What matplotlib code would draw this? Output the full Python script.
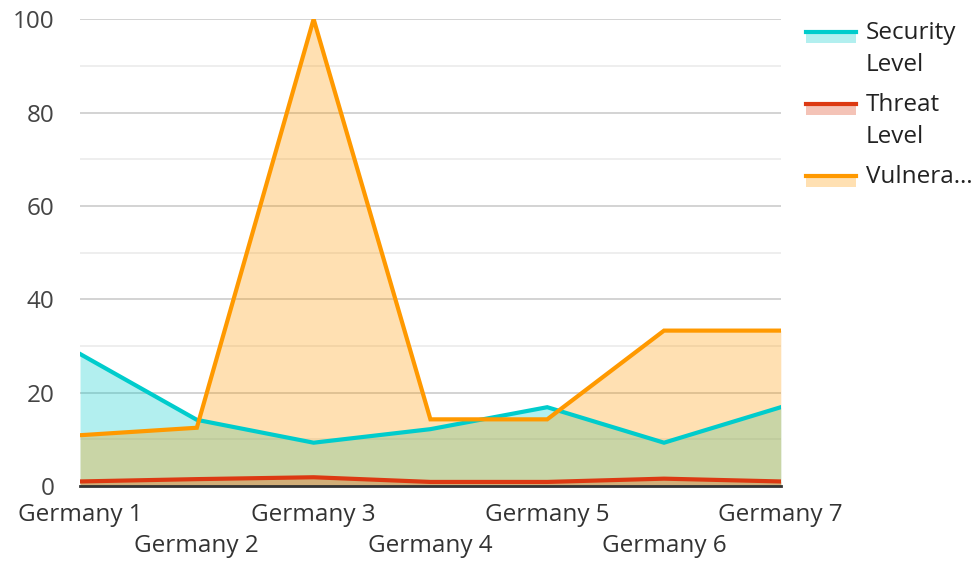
import matplotlib.pyplot as plt
from matplotlib.patches import Rectangle
from matplotlib.lines import Line2D
import numpy as np

plt.rcParams['font.family'] = ['Open Sans', 'DejaVu Sans']
plt.rcParams['font.size'] = 17.5

categories = ["Germany 1", "Germany 2", "Germany 3", "Germany 4",
              "Germany 5", "Germany 6", "Germany 7"]
security = [28.3, 14.2, 9.3, 12.2, 16.9, 9.3, 16.9]
threat = [1.0, 1.5, 1.9, 0.9, 0.9, 1.6, 1.0]
vulnerability = [10.9, 12.5, 100, 14.3, 14.3, 33.3, 33.3]

series = [
    ("Security\nLevel", security, "#00cccc"),
    ("Threat\nLevel", threat, "#dc3912"),
    ("Vulnera\u2026", vulnerability, "#ff9900"),
]

fig = plt.figure(figsize=(9.76, 5.62), dpi=100)
ax = fig.add_axes([0.082, 0.135, 0.718, 0.831])

x = np.arange(len(categories))
for name, vals, col in series:
    ax.fill_between(x, 0, vals, color=col, alpha=0.3, linewidth=0, zorder=2)
for name, vals, col in series:
    ax.plot(x, vals, color=col, linewidth=3, zorder=3, solid_joinstyle='miter')

ax.set_xlim(0, len(categories) - 1)
ax.set_ylim(0, 100)
ax.set_yticks(np.arange(0, 101, 20))
ax.set_yticks(np.arange(10, 100, 20), minor=True)
ax.grid(axis='y', which='major', color='#cccccc', linewidth=1.2, zorder=1)
ax.grid(axis='y', which='minor', color='#ebebeb', linewidth=1.2, zorder=1)
ax.set_axisbelow(True)

ax.set_xticks(x)
ax.set_xticklabels([c if i % 2 == 0 else "\n" + c for i, c in enumerate(categories)],
                   linespacing=1.42, fontsize=17.5)
ax.tick_params(axis='both', which='both', length=0, colors='#333333')
ax.tick_params(axis='x', pad=12)
ax.tick_params(axis='y', pad=18.5, labelsize=17.5, labelcolor='#444444')

for s in ['left', 'right', 'top']:
    ax.spines[s].set_visible(False)
ax.spines['bottom'].set_color('#333333')
ax.spines['bottom'].set_linewidth(2)
ax.spines['bottom'].set_zorder(4)

# legend drawn by hand: line on top of a pale swatch
W, H = 976, 562
for i, (name, vals, col) in enumerate(series):
    top = 31 + i * 72
    fig.add_artist(Rectangle((806 / W, 1 - (top + 12) / H), 50 / W, 12 / H,
                             transform=fig.transFigure, color=col, alpha=0.3, lw=0))
    fig.add_artist(Line2D([806 / W, 856 / W], [1 - (top + 1) / H] * 2,
                          transform=fig.transFigure, color=col, lw=3))
    fig.text(866 / W, 1 - (top - 10) / H, name, fontsize=17.5, color='#222222',
             va='top', ha='left', linespacing=1.42)

fig.savefig("out.png", dpi=100)
